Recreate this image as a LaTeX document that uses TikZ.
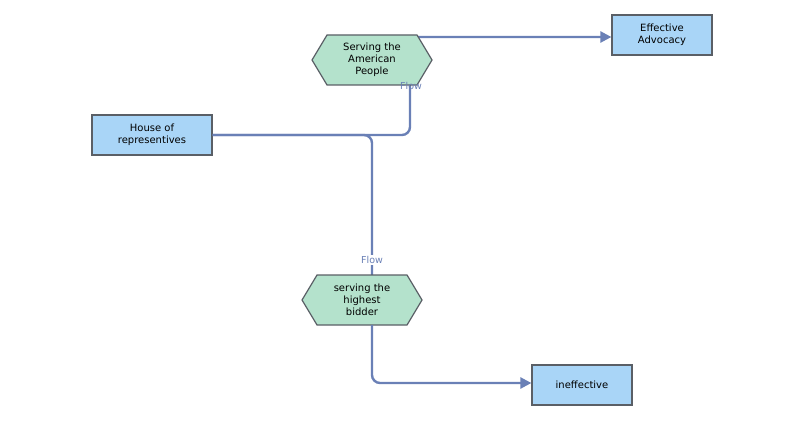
\documentclass[tikz,border=0pt]{standalone}
\usepackage{fontspec}
\setmainfont{DejaVu Sans}
\usetikzlibrary{arrows.meta}
\definecolor{boxfill}{HTML}{A9D5F7}
\definecolor{hexfill}{HTML}{B4E2CC}
\definecolor{edge}{HTML}{6A80B6}
\definecolor{bord}{HTML}{5A5F66}
\begin{document}
\begin{tikzpicture}[x=1pt,y=-1pt,
  box/.style={draw=bord,line width=1.2pt,fill=boxfill,minimum width=#1,minimum height=40pt,inner sep=1pt,font=\fontsize{10}{12}\selectfont,align=center},
  hex/.style={draw=bord,line width=1.2pt,fill=hexfill},
  htext/.style={font=\fontsize{10}{12}\selectfont,align=center,inner sep=0pt},
  conn/.style={draw=edge,line width=2.4pt,rounded corners=8pt},
  arr/.style={conn,-{Triangle[length=11pt,width=11pt]}},
  lab/.style={text=edge,font=\fontsize{9.5}{11}\selectfont,fill=white,inner sep=1pt}]
\useasboundingbox (0,0) rectangle (800,422);
\coordinate (h) at (212,135);
\node[box=120pt,minimum width=120pt] (house) at (152,135) {House of\\representives};
\node[box=100pt,minimum width=100pt] (eff) at (662,35) {Effective\\Advocacy};
\node[box=100pt,minimum width=100pt] (ineff) at (582,385) {ineffective};
% connectors
\draw[arr] (house.east) -- (410,135) -- (410,37) -- (eff.west |- 0,37);
\draw[conn] (house.east) -- (372,135) -- (372,300);
\node[lab] (f2) at (372,260) {Flow};
% hexagons
\draw[hex] (312,60) -- (327,35) -- (417,35) -- (432,60) -- (417,85) -- (327,85) -- cycle;
\node[htext] (serv) at (372,60) {Serving the\\American\\People};
\node[lab,fill=none] (f1) at (411,86) {Flow};
\draw[hex] (302,300) -- (317,275) -- (407,275) -- (422,300) -- (407,325) -- (317,325) -- cycle;
\node[htext] (bid) at (362,300) {serving the\\highest\\bidder};
\coordinate (bb) at (372,325);
\draw[arr] (bb) -- (372,383) -- (ineff.west |- 0,383);
\end{tikzpicture}
\end{document}
